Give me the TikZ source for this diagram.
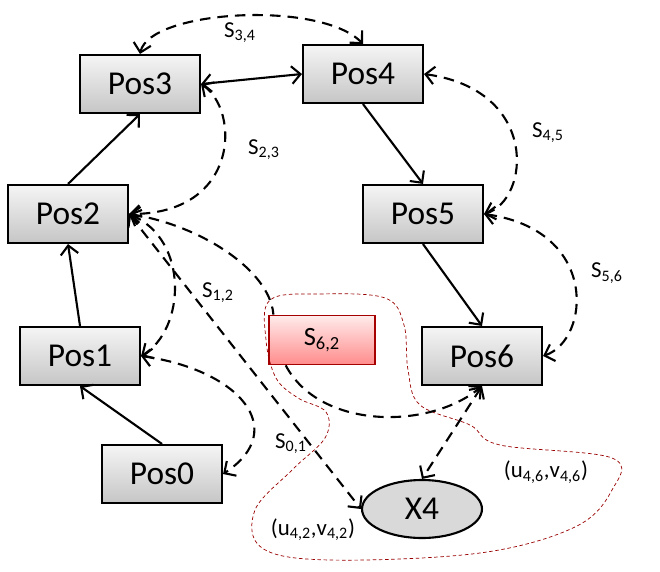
\documentclass[tikz,border=0pt]{standalone}
\usepackage{fontspec}
\setmainfont{Carlito}
\usetikzlibrary{shapes.geometric,arrows.meta}

\begin{document}
\begin{tikzpicture}[x=0.02cm,y=-0.02cm,>={Straight Barb[length=5pt,width=10pt]},
    posbox/.style={draw,line width=1.2pt,minimum width=2.4cm,minimum height=1.16cm,top color=gray!8,bottom color=gray!45,font=\fontsize{19}{19}\selectfont},
    link/.style={line width=1.2pt,->},
    dep/.style={line width=1.2pt,dash pattern=on 6pt off 4pt,<->},
    lab/.style={font=\fontsize{13}{13}\selectfont}]
      \useasboundingbox (0,0) rectangle (660,572);

      \node [posbox] (p3) at (140,84) {Pos3};
      \node [posbox] (p4) at (363,74) {Pos4};
      \node [posbox] (p2) at (68,214) {Pos2};
      \node [posbox] (p5) at (423,214) {Pos5};
      \node [posbox] (p1) at (80,356) {Pos1};
      \node [posbox] (p6) at (482,356) {Pos6};
      \node [posbox] (p0) at (162,474) {Pos0};
      \node [draw=red!65!black,line width=1pt,minimum width=2.12cm,minimum height=0.98cm,top color=red!8,bottom color=red!45,font=\fontsize{15}{15}\selectfont] (s62) at (322,340) {S\textsubscript{6,2}};
      \node [draw,line width=1.2pt,ellipse,fill=gray!30,minimum width=2.4cm,minimum height=1.16cm,font=\fontsize{19}{19}\selectfont] (x4) at (422,509) {X4};

      % red region
      \draw [red!60!black,dash pattern=on 2pt off 1.5pt] plot [smooth cycle,tension=0.6] coordinates {
        (270,300) (320,294) (385,298) (404,325) (408,370) (420,405) (470,425) (500,445)
        (612,458) (612,490) (575,527) (480,553) (330,560) (262,548) (255,510) (292,470)
        (325,438) (326,412) (298,398) (276,378) (266,340)};

      % solid links
      \draw [link] (p0.north) -- (p1.south);
      \draw [link] (p1.north) -- (p2.south);
      \draw [link] (p2.north) -- (p3.south);
      \draw [link,<->] (p3.east) -- (p4.west);
      \draw [link] (p4.south) -- (p5.north);
      \draw [link] (p5.south) -- (p6.north);

      % dashed dependencies
      \draw [dep] (p3.north) .. controls (150,10) and (320,0) .. (p4.north);
      \draw [dep] (p3.east) .. controls (240,110) and (240,214) .. (p2.east);
      \draw [dep] (p4.east) .. controls (540,90) and (530,200) .. (p5.east);
      \draw [dep] (p5.east) .. controls (600,230) and (590,340) .. (p6.east);
      \draw [dep] (p2.east) .. controls (190,240) and (185,330) .. (p1.east);
      \draw [dep] (p1.east) .. controls (240,370) and (290,430) .. (p0.east);
      \draw [dep] (p2.east) -- (x4.west);
      \draw [dep] (p6.south) -- (x4.north);
      \draw [dep,<-] (p2.east) .. controls (200,225) and (270,270) .. ([xshift=3pt]s62.north west);
      \draw [dep,->] ([xshift=10pt]s62.south west) .. controls (320,430) and (430,430) .. (p6.south);

      \node [lab] (l34) at (240,33) {S\textsubscript{3,4}};
      \node [lab] (l23) at (264,150) {S\textsubscript{2,3}};
      \node [lab] (l45) at (548,133) {S\textsubscript{4,5}};
      \node [lab] (l56) at (607,273) {S\textsubscript{5,6}};
      \node [lab] (l12) at (218,293) {S\textsubscript{1,2}};
      \node [lab] (l01) at (291,444) {S\textsubscript{0,1}};
      \node [lab] (uv46) at (546,472) {(u\textsubscript{4,6},v\textsubscript{4,6})};
      \node [lab] (uv42) at (313,530) {(u\textsubscript{4,2},v\textsubscript{4,2})};
\end{tikzpicture}
\end{document}
